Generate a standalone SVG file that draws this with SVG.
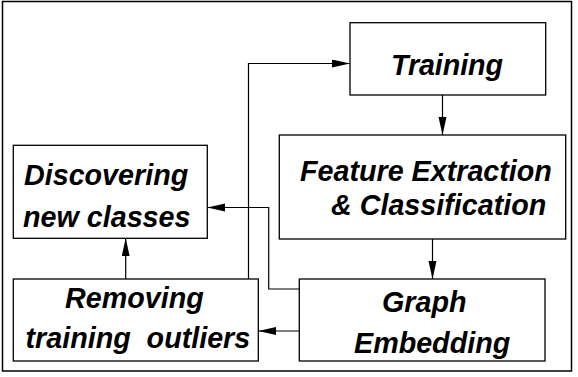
<svg xmlns="http://www.w3.org/2000/svg" width="578" height="377" viewBox="0 0 578 377">
<style>
.box{fill:#fff;stroke:#000;stroke-width:1.3}
.frame{fill:#fff;stroke:#000;stroke-width:1.5}
.c{fill:none;stroke:#000;stroke-width:1.2}
text{font-family:"Liberation Sans",Arial,sans-serif;font-weight:bold;font-style:italic;font-size:28.7px;fill:#000}
</style>
<defs>
<marker id="ah" markerUnits="userSpaceOnUse" markerWidth="20" markerHeight="10" refX="18" refY="4" orient="auto">
<path d="M0,0 L18,4 L0,8 z" fill="#000"/>
</marker>
</defs>
<rect class="frame" x="2.5" y="1.5" width="569" height="369.5"/>
<g id="training">
<rect class="box" x="350" y="22.7" width="195.7" height="72.3"/>
<text x="391" y="75" textLength="112">Training</text>
</g>
<g id="feature">
<rect class="box" x="279.3" y="135" width="286.4" height="104"/>
<text x="300" y="181">Feature Extraction</text>
<text x="331" y="215">&amp; Classification</text>
</g>
<g id="graph">
<rect class="box" x="299.3" y="279" width="245.7" height="82"/>
<text x="382" y="311.5">Graph</text>
<text x="354" y="353">Embedding</text>
</g>
<g id="discovering">
<rect class="box" x="13.3" y="145.3" width="194" height="93"/>
<text x="24" y="185">Discovering</text>
<text x="23" y="226.5">new classes</text>
</g>
<g id="removing">
<rect class="box" x="13.3" y="279" width="245" height="82"/>
<text x="65" y="308">Removing</text>
<text x="25.5" y="348" xml:space="preserve">training  outliers</text>
</g>
<g id="connectors">
<polyline class="c" points="248.5,279 248.5,63.5 350,63.5" marker-end="url(#ah)"/>
<line class="c" x1="442.5" y1="95" x2="442.5" y2="135" marker-end="url(#ah)"/>
<line class="c" x1="432.5" y1="239" x2="432.5" y2="279" marker-end="url(#ah)"/>
<polyline class="c" points="299.3,289 268.7,289 268.7,207.5 207.3,207.5" marker-end="url(#ah)"/>
<line class="c" x1="299.3" y1="331" x2="258.3" y2="331" marker-end="url(#ah)"/>
<line class="c" x1="125.7" y1="279" x2="125.7" y2="238.3" marker-end="url(#ah)"/>
</g>
</svg>
